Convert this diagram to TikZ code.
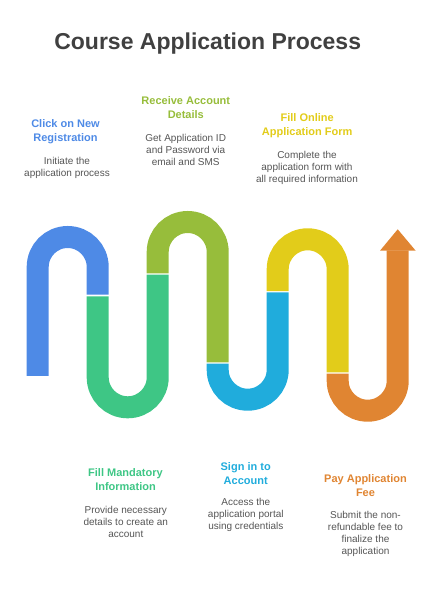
\documentclass[tikz,border=0pt]{standalone}
\usepackage{fontspec}
\setmainfont{Liberation Sans}
\definecolor{cblue}{HTML}{4E8AE6}
\definecolor{cgreen}{HTML}{3EC685}
\definecolor{colive}{HTML}{97BD3B}
\definecolor{ccyan}{HTML}{20ACDC}
\definecolor{cyellow}{HTML}{E2CC1A}
\definecolor{corange}{HTML}{E08532}
\definecolor{ctitle}{HTML}{404040}
\definecolor{cdesc}{HTML}{555555}
\tikzset{
  seg/.style={line width=22pt, line cap=butt},
  head/.style={align=center, inner sep=0pt, font={\fontsize{11}{14}\selectfont\bfseries}},
  desc/.style={align=center, inner sep=0pt, text=cdesc, font={\fontsize{10}{12}\selectfont}},
}
\begin{document}
\begin{tikzpicture}[x=1pt,y=1pt]
\useasboundingbox (0,0) rectangle (435,611);
% serpentine
\draw[seg, cblue] (37.7,235) -- (37.7,344) arc (180:0:30) -- (97.7,316.3);
\draw[seg, cgreen] (97.7,314.7) -- (97.7,233.7) arc (180:360:30) -- (157.7,336.3);
\draw[seg, colive] (157.7,337.7) -- (157.7,359) arc (180:0:30) -- (217.7,248.7);
\draw[seg, ccyan] (217.7,247.3) -- (217.7,241.3) arc (180:360:30) -- (277.7,318.5);
\draw[seg, cyellow] (277.7,319.9) -- (277.7,341.7) arc (180:0:30) -- (337.7,238.7);
\draw[seg, corange] (337.7,237.3) -- (337.7,230.3) arc (180:360:30) -- (397.7,360.6);
\fill[corange] (380,360.3) -- (415.7,360.3) -- (397.7,381.7) -- cycle;
% title
\node[inner sep=0pt, text=ctitle, font={\fontsize{23}{28}\selectfont\bfseries}] (title) at (207.7,567.7) {Course Application Process};
% top labels
\node[head, text=cblue] (h1) at (65.5,479.7) {Click on New\\Registration};
\node[desc] (d1) at (67,443.3) {Initiate the\\application process};
\node[head, text=colive] (h2) at (185.8,503.3) {Receive Account\\Details};
\node[desc] (d2) at (185.7,461.5) {Get Application ID\\and Password via\\email and SMS};
\node[head, text=cyellow] (h3) at (307.2,485.1) {Fill Online\\Application Form};
\node[desc] (d3) at (307,443.3) {Complete the\\application form with\\all required information};
% bottom labels
\node[head, text=cgreen] (h4) at (125.5,131.3) {Fill Mandatory\\Information};
\node[desc] (d4) at (125.8,89) {Provide necessary\\details to create an\\account};
\node[head, text=ccyan] (h5) at (245.7,137.3) {Sign in to\\Account};
\node[desc] (d5) at (245.8,95.7) {Access the\\application portal\\using credentials};
\node[head, text=corange] (h6) at (365.5,125) {Pay Application\\Fee};
\node[desc] (d6) at (365.5,77.3) {Submit the non-\\refundable fee to\\finalize the\\application};
\end{tikzpicture}
\end{document}
